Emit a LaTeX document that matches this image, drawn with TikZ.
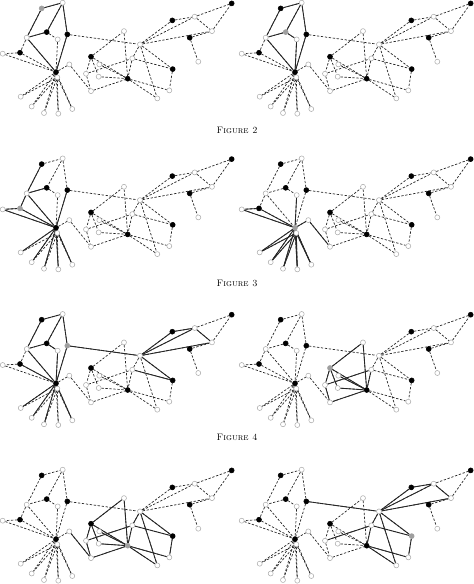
\documentclass[tikz,border=0pt]{standalone}
\usetikzlibrary{backgrounds}

% vertices of the graph: name/x/y/colour (pixel units of one panel)
\def\vertexlist{a/41.7/8.4/black, b/62.7/2.7/white, c/46.7/32.1/black,
  d/57.7/39.4/white, e/67.3/34.4/black, f/26.7/37.7/white,
  g/20/52.7/black, h/2.7/53.7/white, k/57.3/77.3/white, i/56/72.1/black,
  j/69.3/64.4/white, l1/20.7/96.7/white, l2/31.7/106.5/white,
  l3/44/113/white, l4/58.3/113.7/white, l5/72.3/109/white,
  m/91/91.1/white, n/91/56.7/black, o/99.3/64.4/white, p/86/73.7/white,
  q/98.7/76.7/white, r/124/31.1/white, s/132.3/58.4/white,
  t/127.7/78.7/black, u/140/44.4/white, v/172.3/20.4/black,
  w/194.7/16.7/white, x/189.7/37.7/black, y/212/31.1/white,
  z/231.7/3.4/black, aa/172.7/69.1/black, ab/169.3/90.4/white,
  ac/157.3/98.4/white, ad/198.3/61.7/white}

% all edges
\def\edgelist{a/b, a/f, b/c, b/e, c/f, c/d, d/i, e/i, f/i, f/g, g/h, g/i,
  h/i, i/j, i/k, i/l1, i/l2, i/l3, i/l4, i/l5, k/l1, k/l2, k/l3, k/l4,
  k/l5, e/u, j/m, n/r, r/t, n/p, n/q, n/t, p/s, o/t, q/t, m/t, p/m, s/t,
  s/u, u/v, u/w, u/y, v/w, w/z, w/y, y/z, x/y, x/ad, u/aa, s/aa, aa/ab,
  u/ac, t/ab, t/ac}

% #1 id, #2 #3 shift, #4 grey vertex, #5 solid edges
\newcommand{\graphpanel}[5]{%
  \begin{scope}[shift={(#2,#3)}]
    \foreach \vname/\x/\y/\col in \vertexlist {
      \edef\thisv{\vname}\edef\grayv{#4}%
      \ifx\thisv\grayv
        \node[vertex, vgray] (#1\vname) at (\x,\y) {};
      \else
        \node[vertex, v\col] (#1\vname) at (\x,\y) {};
      \fi
    }
    \begin{pgfonlayer}{background}
      \foreach \u/\w in \edgelist {\draw[weak] (#1\u) -- (#1\w);}
      \foreach \u/\w in {#5} {\draw[strong] (#1\u) -- (#1\w);}
    \end{pgfonlayer}
  \end{scope}}

\begin{document}
\begin{tikzpicture}[
  x=0.03cm, y=-0.03cm,
  vertex/.style={circle, inner sep=0pt, minimum size=0.15cm, line width=0.45pt},
  vwhite/.style={draw=gray!65, fill=white},
  vblack/.style={draw=black, fill=black},
  vgray/.style={draw=gray!75, fill=gray!75},
  weak/.style={black!85, line width=0.6pt, dash pattern=on 2pt off 1.4pt},
  strong/.style={black!85, line width=0.75pt},
  figlabel/.style={font=\footnotesize}
]
\useasboundingbox (0,0) rectangle (474,584);

% Panels
\graphpanel{p1}{0}{0}{a}{a/b, a/f, b/c, b/e, c/f, f/i, e/i}
\graphpanel{p2}{239}{0}{c}{a/b, a/f, b/c, b/e, c/f, c/d, f/i, e/i, d/i}
\graphpanel{p3}{0}{155.7}{g}{a/f, c/f, e/i, f/g, g/h, f/i, g/i, h/i,
  i/l1, i/l2, i/l3, i/l4, i/l5}
\graphpanel{p4}{239}{155.7}{i}{g/h, h/i, g/i, d/i, i/j, j/m, i/k,
  i/l1, i/l2, i/l3, i/l4, i/l5, k/l1, k/l2, k/l3, k/l4, k/l5}
\graphpanel{p5}{0}{311.3}{e}{a/b, a/f, b/c, b/e, c/f, c/d, d/i, e/i, f/i,
  g/i, e/u, u/v, u/w, u/y, v/w, w/y, u/aa, s/aa, i/l1, i/l2, i/l3, i/l5}
\graphpanel{p6}{239}{311.3}{n}{n/r, r/t, n/p, n/q, n/t, p/s, o/t, q/t,
  m/t, p/m, s/t}
\graphpanel{p7}{0}{467}{t}{n/r, r/t, n/t, n/p, n/q, p/s, o/t, q/t, m/t,
  p/m, j/m, s/t, s/u, u/ac, u/aa, s/aa, aa/ab, t/ab, t/ac}
\graphpanel{p8}{239}{467}{aa}{e/u, u/v, u/w, v/w, w/y, u/y, s/u, s/aa,
  u/aa, u/ac, aa/ab, t/ab, t/ac, s/t, p/s}

% Captions
\node[figlabel] (fig2) at (237,130) {\textsc{Figure 2}};
\node[figlabel] (fig3) at (237,283) {\textsc{Figure 3}};
\node[figlabel] (fig4) at (237,437) {\textsc{Figure 4}};

\end{tikzpicture}
\end{document}
